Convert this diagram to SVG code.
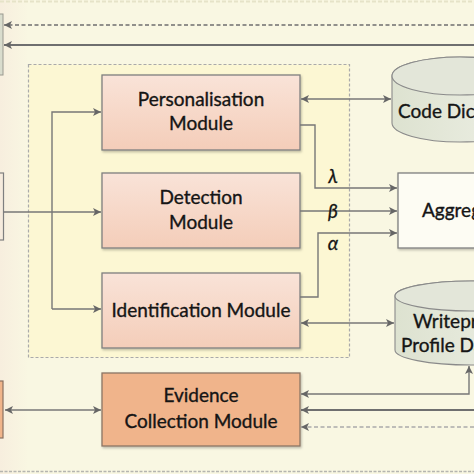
<svg xmlns="http://www.w3.org/2000/svg" width="474" height="474" viewBox="0 0 474 474">
<defs>
<linearGradient id="modFill" x1="0" y1="0" x2="0" y2="1">
<stop offset="0" stop-color="#f9e3d8"/>
<stop offset="1" stop-color="#f4cdb9"/>
</linearGradient>
<linearGradient id="cylFill" x1="0" y1="0" x2="1" y2="0">
<stop offset="0" stop-color="#dde2d0"/>
<stop offset="1" stop-color="#eef0e6"/>
</linearGradient>
<linearGradient id="bgFill" x1="0" y1="0" x2="1" y2="0">
<stop offset="0" stop-color="#f7eede"/>
<stop offset="0.06" stop-color="#f9f7e2"/>
<stop offset="1" stop-color="#f9f7e2"/>
</linearGradient>
<filter id="shadow" x="-10%" y="-10%" width="120%" height="130%">
<feDropShadow dx="1" dy="1.5" stdDeviation="1" flood-color="#000" flood-opacity="0.25"/>
</filter>
<marker id="ah" viewBox="0 0 10 10" refX="10" refY="5" markerWidth="9" markerHeight="8" markerUnits="userSpaceOnUse" orient="auto-start-reverse">
<path d="M0,0 L10,5 L0,10 L2.5,5 z" fill="#666"/>
</marker>
</defs>
<style>
.lbl{font-family:Lato,"Liberation Sans",sans-serif;font-size:19px;fill:#151515;stroke:#151515;stroke-width:0.35}
.grk{font-family:Lato,"Liberation Sans",sans-serif;font-size:19px;font-style:italic;fill:#151515;stroke:#151515;stroke-width:0.3}
.mod{fill:url(#modFill);stroke:#7f7f7f;stroke-width:1.3}
.cyl{fill:url(#cylFill);stroke:#8a8a8a;stroke-width:1.1}
.ln{fill:none;stroke:#777;stroke-width:1.4}
.thick{fill:none;stroke:#6f6f6f;stroke-width:2}
.dash{fill:none;stroke:#6f6f6f;stroke-width:1.4;stroke-dasharray:4 2.5}
.dashl{fill:none;stroke:#aaa;stroke-width:1.3;stroke-dasharray:4 2.5}
</style>

<rect x="0" y="0" width="474" height="474" fill="url(#bgFill)"/>
<line x1="0" y1="1.5" x2="474" y2="1.5" stroke="#e6e3c8" stroke-width="2" stroke-dasharray="4 2"/>
<line x1="0" y1="471.5" x2="474" y2="471.5" stroke="#b5b5b0" stroke-width="1.5" stroke-dasharray="3 1.5"/>

<g id="container">
<rect x="28.5" y="64.5" width="321" height="293" fill="#fcf7d3" stroke="#aaa" stroke-width="1.2" stroke-dasharray="3 2"/>
</g>

<g id="left-top-node">
<rect x="-20" y="14" width="23" height="61" fill="#d9dccd" stroke="#9a9a90" stroke-width="1"/>
</g>
<g id="left-input-node">
<rect x="-20" y="173" width="23.5" height="67" fill="#f6ebdd" stroke="#7f7f7f" stroke-width="1.2"/>
</g>
<g id="left-bottom-node">
<rect x="-20" y="381" width="23" height="57" fill="#f0b48a" stroke="#8a7060" stroke-width="1.2"/>
</g>

<g id="personalisation">
<rect class="mod" x="102" y="75" width="198" height="75" filter="url(#shadow)"/>
<text class="lbl" x="201" y="106" text-anchor="middle">Personalisation</text>
<text class="lbl" x="201" y="130" text-anchor="middle">Module</text>
</g>
<g id="detection">
<rect class="mod" x="102" y="173" width="198" height="75" filter="url(#shadow)"/>
<text class="lbl" x="201" y="204" text-anchor="middle">Detection</text>
<text class="lbl" x="201" y="229" text-anchor="middle">Module</text>
</g>
<g id="identification">
<rect class="mod" x="102" y="273" width="198" height="75" filter="url(#shadow)"/>
<text class="lbl" x="201" y="317" text-anchor="middle">Identification Module</text>
</g>
<g id="evidence">
<rect x="102" y="373" width="198" height="73" fill="#f0b48b" stroke="#8a7565" stroke-width="1.3" filter="url(#shadow)"/>
<text class="lbl" x="201" y="402" text-anchor="middle">Evidence</text>
<text class="lbl" x="201" y="428" text-anchor="middle">Collection Module</text>
</g>

<g id="code-dictionary">
<path class="cyl" d="M392,76 A68,19 0 0 1 528,76 V123 A68,19 0 0 1 392,123 Z"/>
<ellipse cx="460" cy="76" rx="68" ry="19" fill="#e3e6d9" stroke="#8a8a8a" stroke-width="1.1"/>
<text class="lbl" x="398" y="118">Code Dictionary</text>
</g>
<g id="aggregator">
<rect x="398" y="173" width="140" height="75" fill="#fdfcf3" stroke="#7f7f7f" stroke-width="1.3" filter="url(#shadow)"/>
<text class="lbl" x="422" y="217">Aggregator</text>
</g>
<g id="writeprint-db">
<path class="cyl" d="M395,296 A76,15 0 0 1 547,296 V350 A76,15 0 0 1 395,350 Z"/>
<ellipse cx="471" cy="296" rx="76" ry="15" fill="#e3e6d9" stroke="#8a8a8a" stroke-width="1.1"/>
<text class="lbl" x="413" y="328">Writeprint</text>
<text class="lbl" x="401" y="352">Profile Database</text>
</g>

<g id="connectors">
<path class="dash" d="M474,25 H4" marker-end="url(#ah)"/>
<path class="thick" d="M474,45 H4" marker-end="url(#ah)"/>
<path class="ln" d="M3.5,212 H101" marker-end="url(#ah)"/>
<path class="ln" d="M52,309 V112 H101" marker-end="url(#ah)"/>
<path class="ln" d="M52,309 H101" marker-end="url(#ah)"/>
<path class="ln" d="M300,125 H315 V188 H397" marker-end="url(#ah)"/>
<path class="ln" d="M300,211 H397" marker-end="url(#ah)"/>
<path class="ln" d="M300,297 H318 V233 H397" marker-end="url(#ah)"/>
<path class="ln" d="M301,99 H391" marker-start="url(#ah)" marker-end="url(#ah)"/>
<path class="ln" d="M301,323 H394" marker-start="url(#ah)" marker-end="url(#ah)"/>
<path class="ln" d="M469,366 V394 H301" marker-start="url(#ah)" marker-end="url(#ah)"/>
<path class="thick" d="M474,410 H301" marker-end="url(#ah)"/>
<path class="dashl" d="M474,427 H301" marker-end="url(#ah)"/>
<path class="ln" d="M5,410 H101" marker-start="url(#ah)" marker-end="url(#ah)"/>
<text class="grk" x="333" y="183" text-anchor="middle">λ</text>
<text class="grk" x="333" y="218" text-anchor="middle">β</text>
<text class="grk" x="333" y="250" text-anchor="middle">α</text>
</g>
</svg>
